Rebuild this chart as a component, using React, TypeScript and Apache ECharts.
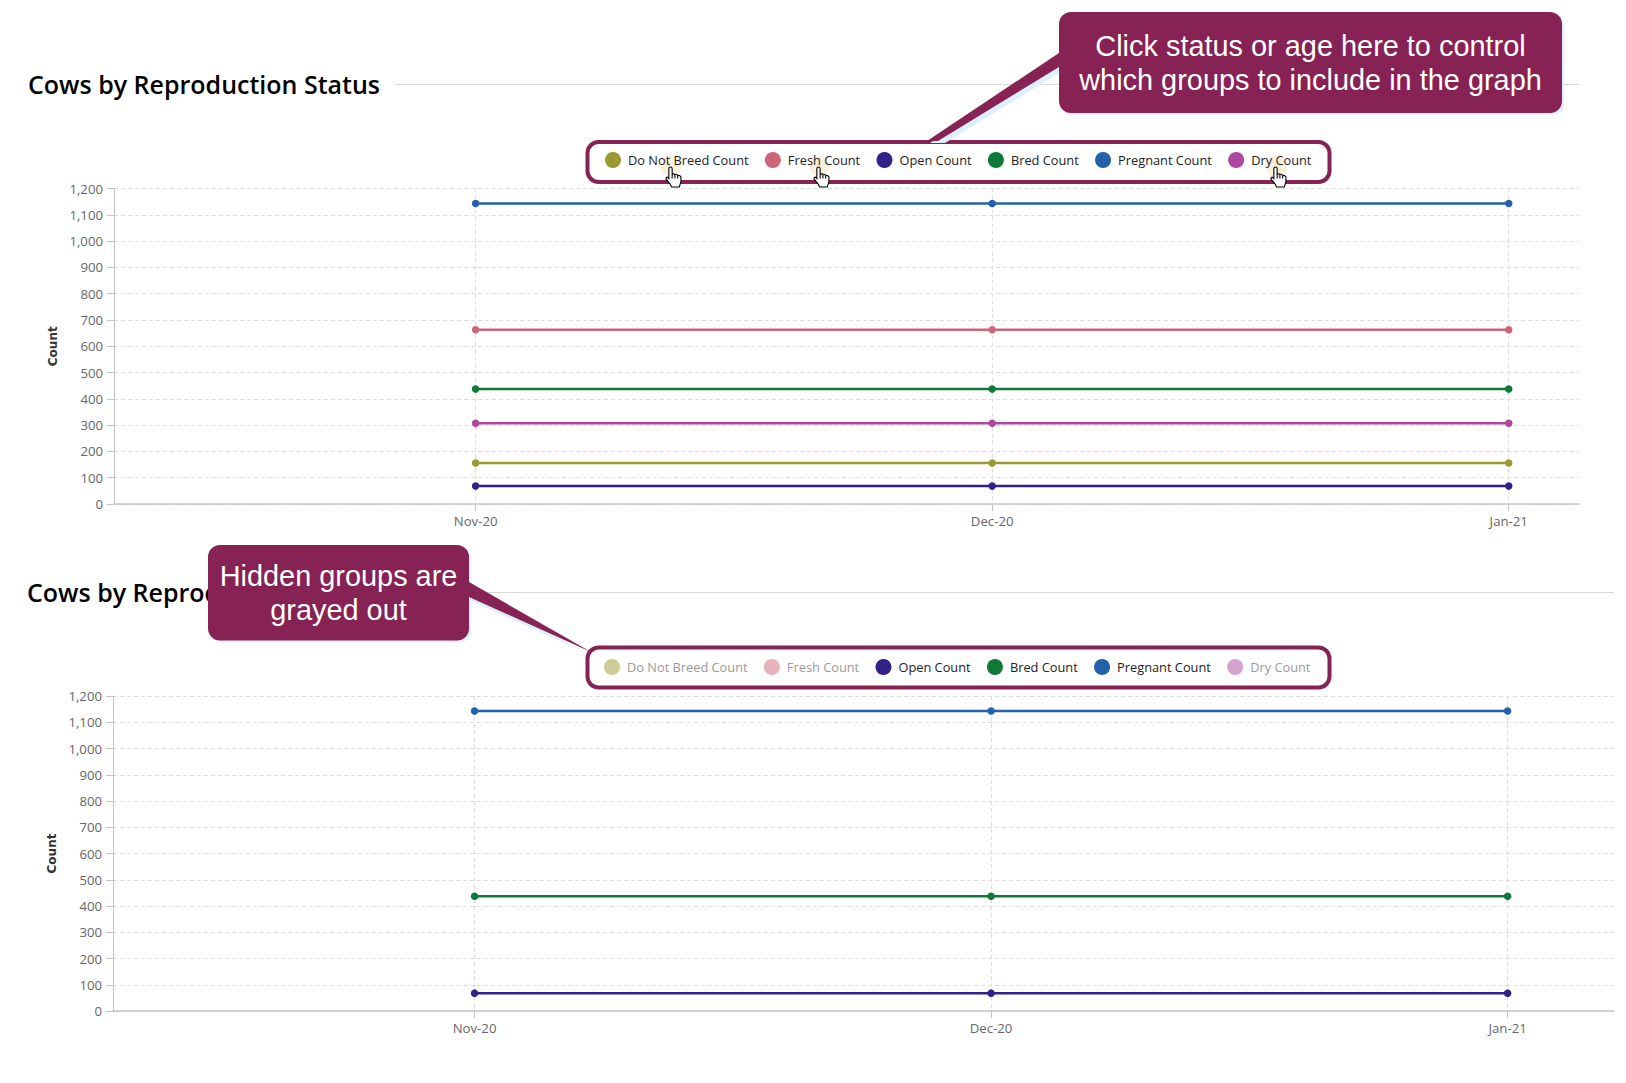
import React, { useEffect, useRef } from "react";
import * as echarts from "echarts";

const categories = ["Nov-20", "Dec-20", "Jan-21"];
const seriesNames = ["Do Not Breed Count", "Fresh Count", "Open Count", "Bred Count", "Pregnant Count", "Dry Count"];
const seriesColors = ["#9b9a31", "#cd667a", "#33218a", "#0f7a38", "#2361ab", "#ad479f"];
const fadedColors = ["#cdcc97", "#e6b2bc", "#33218a", "#0f7a38", "#2361ab", "#d6a3cf"];
const doNotBreedValues = [156, 156, 156];
const freshValues = [663, 663, 663];
const openValues = [68, 68, 68];
const bredValues = [437, 437, 437];
const pregnantValues = [1143, 1143, 1143];
const dryValues = [307, 307, 307];
const seriesValues = [doNotBreedValues, freshValues, openValues, bredValues, pregnantValues, dryValues];
const hiddenInSecondChart = ["Do Not Breed Count", "Fresh Count", "Dry Count"];
const chartTitle = "Cows by Reproduction Status";
const yAxisName = "Count";
const callout1Lines = "Click status or age here to control\nwhich groups to include in the graph";
const callout2Lines = "Hidden groups are\ngrayed out";

const BURGUNDY = "#872254";
const SHADOW = "#dcefff";
const LABEL_FONT = "Open Sans";

echarts.graphic.registerShape(
  "handCursor",
  echarts.graphic.extendPath(
    "M5 1 Q6.5 1 6.5 2.5 V8 Q8 7 9 8 Q10.5 7.5 11.5 9 Q13.5 8.5 14.5 10.5 V15 L13 20 H6 L4.5 17 L1 12.5 Q0.5 11 2 10.5 L3.5 12 V2.5 Q3.5 1 5 1 Z M6.5 8 V12 M9 8 V12 M11.5 9 V12",
    {}
  )
);

function callout(
  rect: { x: number; y: number; width: number; height: number },
  tail: number[][],
  tailShadow: number[][],
  text: string
) {
  const cx = rect.x + rect.width / 2;
  const cy = rect.y + rect.height / 2;
  return [
    { type: "polygon", z: 50, shape: { points: tailShadow }, style: { fill: SHADOW } },
    {
      type: "rect",
      z: 50,
      shape: { x: rect.x + 2, y: rect.y + 2, width: rect.width, height: rect.height, r: 12 },
      style: { fill: SHADOW },
    },
    { type: "polygon", z: 51, shape: { points: tail }, style: { fill: BURGUNDY } },
    { type: "rect", z: 52, shape: { ...rect, r: 12 }, style: { fill: BURGUNDY } },
    {
      type: "text",
      z: 53,
      x: cx,
      y: cy,
      style: {
        text,
        fill: "#ffffff",
        font: "28.9px 'Liberation Sans', Arial, sans-serif",
        lineHeight: 34,
        align: "center",
        verticalAlign: "middle",
      },
    },
  ];
}

function buildOption(p: {
  axisLeft: number;
  axisRight: number;
  top: number;
  bottom: number;
  xMin: number;
  xMax: number;
  titleLeft: number;
  titleTop: number;
  ruleY: number;
  ruleRight: number;
  legendLeft: number;
  legendTop: number;
  box: { x: number; y: number; width: number; height: number };
  hidden: string[];
  graphics: any[];
}) {
  return {
    animation: false,
    backgroundColor: "#ffffff",
    title: {
      text: chartTitle,
      left: p.titleLeft,
      top: p.titleTop,
      padding: 0,
      textStyle: { fontFamily: "Open Sans", fontSize: 25, fontWeight: 600, color: "#000000" },
    },
    legend: {
      left: p.legendLeft,
      top: p.legendTop,
      padding: 0,
      itemWidth: 20,
      itemHeight: 16,
      itemGap: 16.3,
      icon: "circle",
      symbolKeepAspect: true,
      selectedMode: false,
      textStyle: { fontFamily: LABEL_FONT, fontSize: 12.8, color: "#222222" },
      data: seriesNames.map((name, i) => {
        const hidden = p.hidden.includes(name);
        return {
          name,
          itemStyle: { color: hidden ? fadedColors[i] : seriesColors[i] },
          textStyle: { color: hidden ? "#9a9a9a" : "#222222" },
        };
      }),
    },
    grid: { left: p.axisLeft, right: 1626 - p.axisRight, top: p.top, bottom: p.bottom, containLabel: false },
    xAxis: {
      type: "value",
      min: p.xMin,
      max: p.xMax,
      axisLine: { show: true, onZero: false, lineStyle: { color: "#c4c4c4", width: 1.5 } },
      axisTick: { show: true, length: 7, customValues: [0, 1, 2], lineStyle: { color: "#c4c4c4" } },
      axisLabel: {
        customValues: [0, 1, 2],
        margin: 10,
        fontFamily: LABEL_FONT,
        fontSize: 13.2,
        color: "#666666",
        formatter: (v: number) => categories[v],
      },
      splitLine: { show: true, lineStyle: { color: "#dddddd", type: [4, 3], width: 1 } },
    },
    yAxis: {
      type: "value",
      min: 0,
      max: 1200,
      interval: 100,
      name: yAxisName,
      nameLocation: "middle",
      nameGap: 54,
      nameRotate: 90,
      nameTextStyle: { fontFamily: "DejaVu Sans", fontSize: 12, fontWeight: "bold", color: "#333333" },
      axisLine: { show: true, onZero: false, lineStyle: { color: "#c4c4c4" } },
      axisTick: { show: true, length: 7, lineStyle: { color: "#c4c4c4" } },
      axisLabel: { margin: 11, padding: [0, 0, 2, 0], fontFamily: LABEL_FONT, fontSize: 13.2, color: "#666666" },
      splitLine: { show: true, lineStyle: { color: "#dddddd", type: [4, 3], width: 1 } },
    },
    series: seriesNames.map((name, i) => ({
      name,
      type: "line",
      data: p.hidden.includes(name) ? [] : seriesValues[i].map((v, x) => [x, v]),
      symbol: "circle",
      symbolSize: 7.5,
      showSymbol: true,
      lineStyle: { color: seriesColors[i], width: 2.5 },
      itemStyle: { color: seriesColors[i] },
    })),
    graphic: [
      {
        type: "line",
        z: 1,
        shape: { x1: 395, y1: p.ruleY, x2: p.ruleRight, y2: p.ruleY },
        style: { stroke: "#d9d9d9", lineWidth: 1 },
      },
      {
        type: "rect",
        z: 40,
        shape: { ...p.box, r: 11 },
        style: { fill: "none", stroke: BURGUNDY, lineWidth: 4 },
      },
      ...p.graphics,
    ],
  };
}

function cursor(x: number, y: number) {
  return [
    { type: "circle", z: 0, shape: { cx: x, cy: y, r: 10.5 }, style: { fill: "#fbf0dc" } },
    {
      type: "handCursor",
      z: 60,
      x: x - 6,
      y: y,
      scaleX: 1.1,
      scaleY: 1.05,
      style: { fill: "#ffffff", stroke: "#000000", lineWidth: 1 },
    },
  ];
}

const option1 = buildOption({
  axisLeft: 114,
  axisRight: 1579,
  top: 188.5,
  bottom: 540 - 504,
  xMin: -0.7,
  xMax: 2.136,
  titleLeft: 28,
  titleTop: 71,
  ruleY: 84.5,
  ruleRight: 1579,
  legendLeft: 605,
  legendTop: 152,
  box: { x: 587.5, y: 142, width: 742, height: 40 },
  hidden: [],
  graphics: [
    ...callout(
      { x: 1059, y: 12, width: 503, height: 101 },
      [[1059, 53], [927, 141], [938, 141], [1059, 67]],
      [[1061, 60], [930, 143], [945, 143], [1061, 72]],
      callout1Lines
    ),
    ...cursor(671, 166),
    ...cursor(819, 166),
    ...cursor(1276, 166),
  ],
});

const option2 = buildOption({
  axisLeft: 113,
  axisRight: 1614,
  top: 156,
  bottom: 543 - 471,
  xMin: -0.7,
  xMax: 2.206,
  titleLeft: 27,
  titleTop: 39,
  ruleY: 52.5,
  ruleRight: 1614,
  legendLeft: 604,
  legendTop: 119,
  box: { x: 587.5, y: 107.5, width: 742, height: 40 },
  hidden: hiddenInSecondChart,
  graphics: callout(
    { x: 208, y: 5, width: 261, height: 95.5 },
    [[469, 42], [591, 112], [469, 57]],
    [[469, 50], [589, 114], [469, 60]],
    callout2Lines
  ),
});

export default function App() {
  const ref1 = useRef<HTMLDivElement>(null);
  const ref2 = useRef<HTMLDivElement>(null);
  useEffect(() => {
    document.body.style.margin = "0";
    const c1 = echarts.init(ref1.current!, undefined, { renderer: "svg" });
    const c2 = echarts.init(ref2.current!, undefined, { renderer: "svg" });
    c1.setOption(option1 as any);
    c2.setOption(option2 as any);
    return () => {
      c1.dispose();
      c2.dispose();
    };
  }, []);
  return (
    <div style={{ position: "absolute", left: 0, top: 0, width: 1626, height: 1083, overflow: "hidden", background: "#fff" }}>
      <div ref={ref1} style={{ position: "absolute", left: 0, top: 0, width: 1626, height: 540 }} />
      <div ref={ref2} style={{ position: "absolute", left: 0, top: 540, width: 1626, height: 543 }} />
    </div>
  );
}
